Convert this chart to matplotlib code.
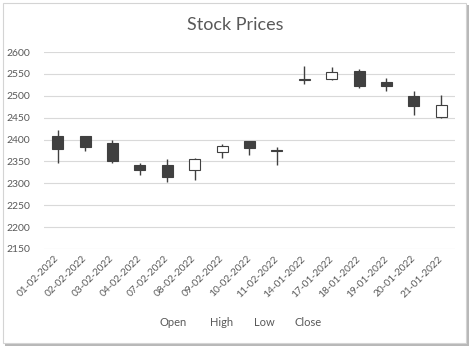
import matplotlib
matplotlib.use('Agg')
import matplotlib.pyplot as plt
from matplotlib.patches import Rectangle
import numpy as np

plt.rcParams['font.family'] = ['Lato', 'DejaVu Sans']

dates = ['01-02-2022', '02-02-2022', '03-02-2022', '04-02-2022', '07-02-2022',
         '08-02-2022', '09-02-2022', '10-02-2022', '11-02-2022', '14-01-2022',
         '17-01-2022', '18-01-2022', '19-01-2022', '20-01-2022', '21-01-2022']
open_ = [2408, 2408, 2391, 2341, 2342, 2330, 2371, 2396, 2375, 2535, 2538, 2556, 2531, 2500, 2451]
high = [2421, 2409, 2399, 2347, 2356, 2358, 2389, 2397, 2382, 2567, 2566, 2562, 2541, 2511, 2502]
low = [2347, 2375, 2346, 2320, 2303, 2308, 2358, 2364, 2343, 2527, 2537, 2517, 2511, 2455, 2450]
close = [2379, 2384, 2351, 2330, 2315, 2355, 2385, 2380, 2374, 2539, 2555, 2523, 2523, 2476, 2478]
legend_labels = ['Open', 'High', 'Low', 'Close']
yticks = list(range(2150, 2601, 50))

W, H = 474, 350
fig = plt.figure(figsize=(W / 100, H / 100), dpi=100)

# chart frame with a soft shadow (pixel coords, top-left origin)
def px_rect(x0, y0, x1, y1, **kw):
    return Rectangle((x0 / W, 1 - y1 / H), (x1 - x0) / W, (y1 - y0) / H,
                     transform=fig.transFigure, **kw)

fig.add_artist(px_rect(5, 5, 469, 346, facecolor='#b8b8b8', edgecolor='none', zorder=-3))
fig.add_artist(px_rect(3, 3, 466, 343, facecolor='white', edgecolor='#d4d4d4', lw=0.8, zorder=-2))

ax = fig.add_axes([44 / W, 1 - 249 / H, (455 - 44) / W, (249 - 52) / H])
ax.patch.set_alpha(0)

x = np.arange(len(dates))
o = np.array(open_)
c = np.array(close)
up = c >= o
dark = '#404040'

ax.vlines(x, low, high, color=dark, lw=1, zorder=2)
ax.bar(x[up], (c - o)[up], bottom=o[up], width=0.4, color='white',
       edgecolor=dark, lw=0.8, zorder=3)
ax.bar(x[~up], (o - c)[~up], bottom=c[~up], width=0.4, color=dark,
       edgecolor=dark, lw=0.8, zorder=3)

ax.set_xlim(-0.5, len(dates) - 0.5)
ax.set_ylim(2150, 2600)
ax.set_yticks(yticks)
ax.set_xticks(x)
ax.set_xticklabels(dates, rotation=45, ha='right', va='center',
                   rotation_mode='anchor', fontsize=7.3, color='#595959')
ax.tick_params(axis='y', length=0, pad=10, labelsize=7.5, labelcolor='#595959')
ax.tick_params(axis='x', length=0, pad=6)
ax.grid(axis='y', color='#d9d9d9', lw=0.8, zorder=0)
ax.set_axisbelow(True)
for s in ax.spines.values():
    s.set_visible(False)

fig.text(235 / W, 1 - 25 / H, 'Stock Prices', ha='center', va='center',
         fontsize=13, color='#595959')

for lab, px in zip(legend_labels, [173, 222, 264, 308]):
    fig.text(px / W, 1 - 323 / H, lab, ha='center', va='center',
             fontsize=8, color='#595959')

fig.savefig('out.png', dpi=100)
